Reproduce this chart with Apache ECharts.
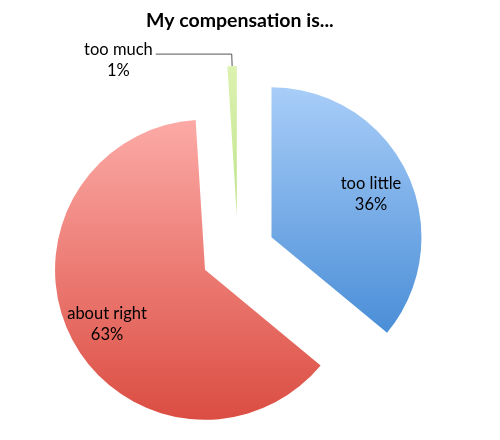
<!DOCTYPE html>
<html>
<head>
<meta charset="utf-8">
<script src="https://cdn.jsdelivr.net/npm/echarts@6/dist/echarts.min.js"></script>
<style>
html,body{margin:0;padding:0;background:#fff;}
#main{width:500px;height:440px;}
</style>
</head>
<body>
<div id="main"></div>
<script>
const titleText = 'My compensation is...';
const categories = ['too little', 'about right', 'too much'];
const values = [36, 63, 1];
const topColors = ['#a8cdf8', '#fcaaa6', '#dcf2b0'];
const bottomColors = ['#4a8ed7', '#db4d42', '#bfe38c'];

const FONT = 'Lato';
const LABEL_SIZE = 16.5;
const chart = echarts.init(document.getElementById('main'), null, {renderer: 'canvas'});

function grad(i) {
  return {
    type: 'linear', x: 0, y: 0, x2: 0, y2: 1,
    colorStops: [{offset: 0, color: topColors[i]}, {offset: 1, color: bottomColors[i]}]
  };
}

const shapeData = categories.map((c, i) => ({
  name: c, value: values[i], selected: true,
  itemStyle: {color: grad(i)},
  label: {show: i === 2},
  labelLine: {show: i === 2}
}));
const labelData = categories.map((c, i) => ({
  name: c, value: values[i], selected: true,
  label: {show: i !== 2}
}));

const common = {
  type: 'pie',
  center: [238, 253],
  startAngle: 90,
  clockwise: true,
  selectedMode: 'multiple',
  selectedOffset: 37,
  percentPrecision: 0,
  animation: false,
  emphasis: {disabled: true}
};

const richStyle = {
  a: {fontFamily: FONT, fontSize: LABEL_SIZE, lineHeight: 21, color: '#000', align: 'center'}
};

chart.setOption({
  backgroundColor: '#ffffff',
  title: {
    text: titleText,
    left: 141,
    top: 6,
    textStyle: {fontFamily: FONT, fontWeight: 'bold', fontSize: 19.5, color: '#000'}
  },
  series: [
    Object.assign({}, common, {
      name: 'shapes',
      radius: [0, 150],
      z: 2,
      data: shapeData,
      label: {
        show: true,
        position: 'outside',
        formatter: '{a|{b}}\n{a|{d}%}',
        rich: richStyle,
        padding: [12, 0, 0, 0],
        distanceToLabelLine: 3
      },
      labelLine: {show: true, length: 12, length2: 76, lineStyle: {color: '#555', width: 1}}
    }),
    Object.assign({}, common, {
      name: 'labels',
      radius: [0, 214],
      z: 3,
      silent: true,
      itemStyle: {color: 'rgba(0,0,0,0)'},
      data: labelData,
      label: {
        show: true,
        position: 'inside',
        formatter: '{a|{b}}\n{a|{d}%}',
        rich: richStyle,
        padding: [8, 0, 0, 0]
      },
      labelLine: {show: false}
    })
  ]
});
</script>
</body>
</html>
